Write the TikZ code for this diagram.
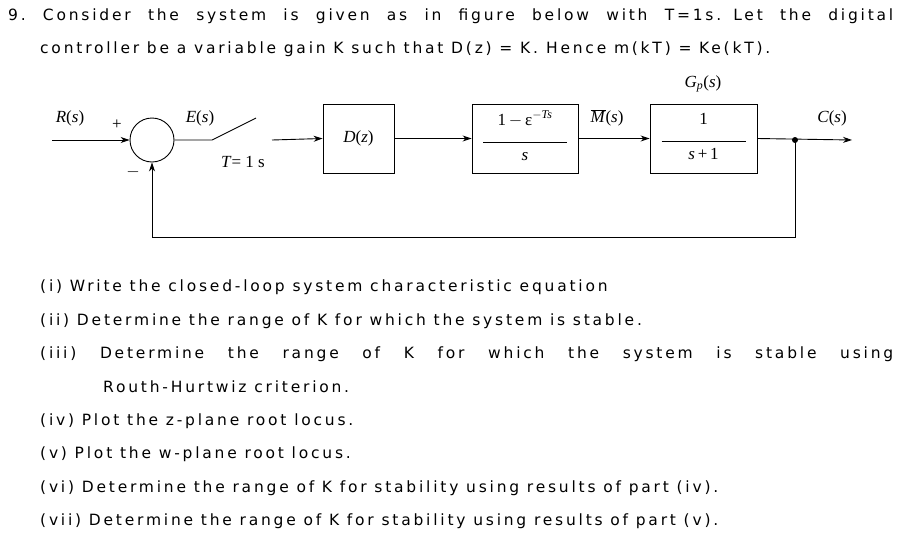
\documentclass[tikz,border=0pt]{standalone}
\usepackage{fontspec}
\setmainfont{DejaVu Sans}[LetterSpace=18]
\newfontfamily\dgm{Liberation Serif}
\usetikzlibrary{arrows.meta}
\newcommand{\iv}[1]{\textit{#1}}
\frenchspacing
\begin{document}
\begin{tikzpicture}[x=1pt,y=-1pt,
  blk/.style={draw,line width=0.9pt,minimum width=#1,minimum height=69pt,inner sep=0pt},
  lab/.style={font=\dgm\fontsize{17}{19}\selectfont},
  txt/.style={font=\fontsize{15.5}{18}\selectfont,anchor=west,inner sep=0pt},
  sig/.style={line width=0.9pt,-{Stealth[length=9pt,width=6pt]}},
  ln/.style={line width=0.9pt}]
\useasboundingbox (0,0) rectangle (923,549);
\node[txt] at (8,16) {\makebox[885pt][s]{9. Consider the system is given as in figure below with T=1s.\kern12pt Let the digital}};
\node[txt] at (40,49) {controller be a variable gain K such that D(z) = K.\kern8pt Hence m(kT) = Ke(kT).};
% diagram
\node[lab] (R) at (70,118) {\iv{R}(\iv{s})};
\coordinate (in) at (52,140);
\node[draw,circle,line width=0.9pt,minimum size=44pt,inner sep=0pt] (sum) at (152,140) {};
\node[lab] at (117,125) {+};
\node[lab] at (133,172) {$-$};
\node[lab] (E) at (200,118) {\iv{E}(\iv{s})};
\coordinate (sw1) at (212,140);
\coordinate (sw2) at (256,118);
\coordinate (sw3) at (272,140);
\node[lab] (T) at (243,162) {\iv{T}=\ 1 s};
\node[blk=71pt,lab] (D) at (358.5,138.5) {\iv{D}(\iv{z})};
\node[blk=106pt,lab] (H) at (525,138.5) {\begin{tabular}{@{}c@{}}1\,$-$\,ε\textsuperscript{$-$\iv{Ts}}\\[-2pt]\rule{84pt}{0.6pt}\\[-1pt]\iv{s}\end{tabular}};
\node[lab] (M) at (607,118) {$\overline{\mbox{\iv{M}}}$(\iv{s})};
\node[blk=107pt,lab] (G) at (703.5,138.5) {\begin{tabular}{@{}c@{}}1\\[-2pt]\rule{84pt}{0.6pt}\\[-1pt]\iv{s}\,+\,1\end{tabular}};
\node[lab] (Gp) at (703,84) {\iv{G\textsubscript{p}}(\iv{s})};
\node[lab] (C) at (832,118) {\iv{C}(\iv{s})};
\coordinate (out) at (852,140);
\coordinate (dot) at (795,140);
\coordinate (fb1) at (795,237);
\coordinate (fb2) at (152,237);
\draw[sig] (in) -- (sum.west);
\draw[ln] (sum.east) -- (sw1) -- (sw2);
\draw[sig] (sw3) -- (D.west);
\draw[sig] (D.east) -- (H.west);
\draw[sig] (H.east) -- (G.west);
\draw[sig] (G.east) -- (out);
\fill (dot) circle (3pt);
\draw[sig] (dot) -- (fb1) -- (fb2) -- (sum.south);
% list
\node[txt] at (40,287) {(i) Write the closed-loop system characteristic equation};
\node[txt] at (40,321) {(ii) Determine the range of K for which the system is stable.};
\node[txt] at (40,354) {\makebox[853pt][s]{(iii) Determine the range of K for which the system is stable using}};
\node[txt] at (103,387) {Routh-Hurtwiz criterion.};
\node[txt] at (40,421) {(iv) Plot the z-plane root locus.};
\node[txt] at (40,454) {(v) Plot the w-plane root locus.};
\node[txt] at (40,488) {(vi) Determine the range of K for stability using results of part (iv).};
\node[txt] at (40,521) {(vii) Determine the range of K for stability using results of part (v).};
\end{tikzpicture}
\end{document}
